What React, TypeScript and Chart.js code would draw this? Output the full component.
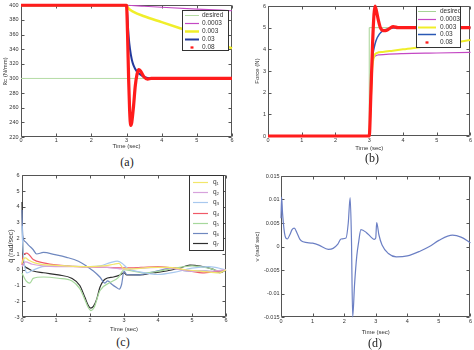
import React, { useEffect, useRef } from 'react';
import { Chart, registerables } from 'chart.js';
Chart.register(...registerables);

const FONT = "'Liberation Sans', Arial, sans-serif";
const TXT = '#333';

// ---------- shared ----------
const X_MIN = 0;
const X_MAX = 6;
const X_LABEL = 'Time (sec)';

// ---------- (a) stiffness estimate ----------
const A_LABELS = ['desired', '0.0003', '0.003', '0.03', '0.08'];
const A_DES_T = [0, 6];
const A_DES_V = [300, 300];
const A_S1_T = [0, 3, 3.5, 4, 5, 6];
const A_S1_V = [400, 400, 398.6, 397.3, 394.8, 392.5];
const A_S2_T = [0, 3, 3.05, 3.2, 3.5, 4, 4.5, 5, 5.5, 6];
const A_S2_V = [400, 400, 396, 391, 385, 377, 369, 361, 351, 341];
const A_S3_T = [0, 3, 3.03, 3.06, 3.1, 3.15, 3.2, 3.3, 3.4, 3.5, 3.7, 6];
const A_S3_V = [400, 400, 380, 358, 340, 326, 318, 309, 305, 302, 300, 300];
const A_S4_T = [0, 3, 3.03, 3.06, 3.09, 3.12, 3.15, 3.2, 3.25, 3.3, 3.35, 3.4, 3.5, 3.6, 3.7, 6];
const A_S4_V = [400, 400, 360, 300, 255, 236, 240, 262, 290, 306, 312, 310, 302, 299, 300, 300];

// ---------- (b) force ----------
const B_DES_T = [0, 3, 3, 6];
const B_DES_V = [0, 0, 5, 5];
const B_S1_T = [0, 3, 3.05, 3.12, 3.27, 3.5, 4, 5, 6];
const B_S1_V = [0, 0, 1.8, 3.58, 3.74, 3.77, 3.8, 3.83, 3.86];
const B_S2_T = [0, 3, 3.05, 3.1, 3.22, 3.4, 3.7, 4, 5, 6];
const B_S2_V = [0, 0, 1.8, 3.3, 3.83, 3.88, 3.94, 4.0, 4.2, 4.43];
const B_S3_T = [0, 3, 3.05, 3.1, 3.15, 3.2, 3.3, 3.4, 3.5, 3.7, 3.9, 6];
const B_S3_V = [0, 0, 2, 3.6, 4.1, 4.4, 4.7, 4.85, 4.92, 4.98, 5, 5];
const B_S4_T = [0, 3, 3.05, 3.1, 3.14, 3.17, 3.21, 3.27, 3.33, 3.42, 3.52, 3.62, 3.71, 3.85, 6];
const B_S4_V = [0, 0, 2.0, 4.3, 5.6, 6.0, 5.8, 5.35, 5.0, 4.86, 4.88, 4.98, 5.05, 5.0, 5.0];

// ---------- (c) joint velocities ----------
const C_LABELS = ['q\u2081', 'q\u2082', 'q\u2083', 'q\u2084', 'q\u2085', 'q\u2086', 'q\u2087'];
const C_Q1_T = [0, 0.05, 0.1, 0.2, 0.35, 0.6, 1, 1.5, 2, 2.4, 2.7, 2.85, 3, 3.3, 3.8, 4.3, 4.8, 5.3, 5.8, 6];
const C_Q1_V = [0.4, 0.7, 0.75, 0.6, 0.45, 0.33, 0.28, 0.22, 0.2, 0.25, 0.35, 0.4, 0.05, 0.05, 0.15, 0.15, 0, -0.1, -0.2, 0];
const C_Q2_T = [0, 0.05, 0.1, 0.3, 0.6, 1, 2, 2.5, 3, 3.5, 4, 4.5, 5, 5.5, 6];
const C_Q2_V = [0.2, 0.4, 0.5, 0.35, 0.25, 0.2, 0.2, 0.15, 0.05, 0.1, 0.15, 0.05, -0.1, -0.1, 0];
const C_Q3_T = [0, 0.03, 0.08, 0.15, 0.3, 0.6, 1, 1.5, 2, 2.3, 2.6, 2.8, 2.95, 3.1, 3.5, 4, 4.5, 5, 5.5, 6];
const C_Q3_V = [2.8, 1.2, 0.2, -0.2, -0.05, 0.2, 0.25, 0.22, 0.2, 0.25, 0.45, 0.55, 0.4, 0.1, -0.15, -0.3, -0.15, 0.1, 0.2, 0];
const C_Q4_T = [0, 0.04, 0.14, 0.33, 0.63, 1.07, 1.5, 2, 2.5, 3, 3.5, 4, 4.5, 5, 5.3, 5.7, 6];
const C_Q4_V = [0.3, 0.96, 1.06, 0.65, 0.44, 0.29, 0.22, 0.18, 0.15, 0.12, 0.15, 0.2, 0.1, -0.1, -0.2, -0.1, 0];
const C_Q5_T = [0, 0.02, 0.12, 0.23, 0.33, 0.63, 1.07, 1.46, 1.7, 1.85, 1.95, 2.03, 2.12, 2.29, 2.59, 2.83, 3, 3.2, 3.6, 4, 4.5, 5, 5.5, 5.85, 6];
const C_Q5_V = [-0.2, -0.3, -0.7, -0.85, -0.55, -0.46, -0.54, -0.7, -1.2, -1.9, -2.4, -2.6, -2.4, -1.33, -0.81, -0.5, 0, -0.05, -0.2, -0.1, 0.1, 0.25, 0.1, -0.1, 0];
const C_Q6_T = [0, 0.02, 0.09, 0.2, 0.33, 0.43, 0.63, 0.97, 1.31, 1.66, 1.9, 2.1, 2.29, 2.44, 2.52, 2.64, 2.78, 2.86, 2.93, 3, 3.08, 3.37, 3.96, 4.45, 4.84, 5.43, 5.8, 6];
const C_Q6_V = [3.8, 2.2, 1.8, 1.55, 1.27, 1.0, 1.1, 0.96, 0.79, 0.54, 0.23, -0.08, -0.46, -0.85, -0.7, -0.92, -1.13, -1.23, -0.92, -0.08, -0.3, -0.33, -0.08, 0.12, -0.08, -0.08, -0.15, 0];
const C_Q7_T = [0, 0.02, 0.05, 0.14, 0.33, 0.63, 1.07, 1.46, 1.7, 1.85, 1.95, 2.02, 2.1, 2.2, 2.29, 2.44, 2.69, 2.88, 3, 3.08, 3.47, 3.86, 4.25, 4.65, 4.94, 5.24, 5.63, 5.82, 6];
const C_Q7_V = [4.3, 1.5, 0.4, 0.12, -0.08, -0.19, -0.33, -0.54, -1.0, -1.75, -2.27, -2.44, -2.33, -1.85, -1.13, -0.6, -0.46, -0.33, -0.19, -0.33, -0.33, -0.19, -0.08, 0.12, 0.29, 0.23, 0.02, -0.19, 0];

// ---------- (d) null-space velocity ----------
const D_T = [0, 0.02, 0.05, 0.13, 0.2, 0.28, 0.35, 0.42, 0.5, 0.6, 0.7, 1.0, 1.2, 1.5, 1.65, 1.8, 1.9, 2.06, 2.13, 2.19, 2.23, 2.27, 2.33, 2.4, 2.46, 2.53, 2.7, 2.85, 2.95, 3.0, 3.03, 3.1, 3.2, 3.4, 3.65, 4.0, 4.4, 4.7, 5.0, 5.43, 5.7, 6.0];
const D_V = [0.006, 0.0105, 0.007, 0.0022, 0.0016, 0.0025, 0.0036, 0.0039, 0.003, 0.0015, 0.001, 0.0007, 0.0003, -0.0006, -0.0004, 0.0005, 0.0016, 0.0018, 0.005, 0.0104, 0.002, -0.015, -0.008, -0.002, 0.001, 0.0036, 0.003, 0.002, 0.0015, 0.0018, 0.0051, 0.0025, 0.0003, -0.0015, -0.0022, -0.002, -0.001, 0, 0.0013, 0.0024, 0.002, 0.0008];

function pts(t: number[], v: number[]) {
  return t.map((x, i) => ({ x, y: v[i] }));
}

const boxPlugin = {
  id: 'mBox',
  beforeDatasetsDraw(chart: any) {
    const { ctx, chartArea, scales } = chart;
    const l = Math.round(chartArea.left) + 0.5;
    const r = Math.round(chartArea.right) - 0.5;
    const t = Math.round(chartArea.top) + 0.5;
    const b = Math.round(chartArea.bottom) - 0.5;
    ctx.save();
    ctx.strokeStyle = '#555';
    ctx.lineWidth = 1;
    ctx.beginPath();
    ctx.rect(l, t, r - l, b - t);
    const len = 3;
    scales.x.ticks.forEach((tk: any) => {
      const p = Math.round(scales.x.getPixelForValue(tk.value)) + 0.5;
      ctx.moveTo(p, b); ctx.lineTo(p, b - len);
      ctx.moveTo(p, t); ctx.lineTo(p, t + len);
    });
    scales.y.ticks.forEach((tk: any) => {
      const p = Math.round(scales.y.getPixelForValue(tk.value)) + 0.5;
      ctx.moveTo(l, p); ctx.lineTo(l + len, p);
      ctx.moveTo(r, p); ctx.lineTo(r - len, p);
    });
    ctx.stroke();
    ctx.restore();
  },
};

const legendPlugin = {
  id: 'mLegend',
  afterDraw(chart: any, _a: any, o: any) {
    if (!o || !o.box) return;
    const { ctx } = chart;
    const [l, t, r, b] = o.box;
    ctx.save();
    ctx.fillStyle = '#fff';
    ctx.fillRect(l, t, r - l, b - t);
    ctx.strokeStyle = '#333';
    ctx.lineWidth = 1;
    ctx.strokeRect(l + 0.5, t + 0.5, r - l - 1, b - t - 1);
    ctx.font = `${o.fontSize}px ${FONT}`;
    ctx.textBaseline = 'middle';
    chart.data.datasets.forEach((ds: any, i: number) => {
      const y = Math.round(t + o.first + i * o.step) + 0.5;
      if (ds.mlPoint) {
        const cx = l + (o.lx0 + o.lx1) / 2;
        ctx.strokeStyle = ds.borderColor;
        ctx.lineWidth = 1;
        ctx.beginPath();
        ctx.moveTo(cx - 1.5, y); ctx.lineTo(cx + 1.5, y);
        ctx.moveTo(cx, y - 1.5); ctx.lineTo(cx, y + 1.5);
        ctx.moveTo(cx - 1.1, y - 1.1); ctx.lineTo(cx + 1.1, y + 1.1);
        ctx.moveTo(cx - 1.1, y + 1.1); ctx.lineTo(cx + 1.1, y - 1.1);
        ctx.stroke();
      } else {
        ctx.strokeStyle = ds.borderColor;
        ctx.lineWidth = Math.min(ds.borderWidth, 2.5);
        ctx.beginPath();
        ctx.moveTo(l + o.lx0, y);
        ctx.lineTo(l + o.lx1, y);
        ctx.stroke();
      }
      ctx.fillStyle = TXT;
      ctx.fillText(ds.label, l + o.tx, y);
    });
    ctx.restore();
  },
};

function fmt(v: any) {
  return String(Math.round(Number(v) * 1e6) / 1e6);
}

function line(label: string, t: number[], v: number[], color: string, width: number, order: number, extra: any = {}) {
  return {
    label,
    data: pts(t, v),
    borderColor: color,
    backgroundColor: color,
    borderWidth: width,
    pointRadius: 0,
    fill: false,
    order,
    clip: 8,
    cubicInterpolationMode: 'monotone',
    ...extra,
  };
}

function makeConfig(p: any) {
  return {
    type: 'line',
    data: { datasets: p.datasets },
    plugins: [boxPlugin, legendPlugin],
    options: {
      animation: false,
      responsive: false,
      events: [],
      layout: { padding: { left: 0, top: p.padTop, right: p.padRight, bottom: 0 } },
      plugins: {
        legend: { display: false },
        tooltip: { enabled: false },
        mLegend: p.legend || {},
      },
      scales: {
        x: {
          type: 'linear',
          min: X_MIN,
          max: X_MAX,
          afterFit: (s: any) => { s.height = p.xAxisH; },
          grid: { display: false, drawTicks: false },
          border: { display: false },
          ticks: {
            stepSize: 1,
            autoSkip: false,
            maxRotation: 0,
            padding: p.xTickPad,
            color: TXT,
            font: { family: FONT, size: 5.5, lineHeight: 1 },
            callback: fmt,
          },
          title: {
            display: true,
            text: X_LABEL,
            color: TXT,
            font: { family: FONT, size: p.xTitleSize || 6, lineHeight: 1.2 },
            padding: { top: 0, bottom: 0 },
          },
        },
        y: {
          type: 'linear',
          min: p.yMin,
          max: p.yMax,
          afterFit: (s: any) => { s.width = p.yAxisW; },
          grid: { display: false, drawTicks: false },
          border: { display: false },
          ticks: {
            stepSize: p.yStep,
            autoSkip: false,
            padding: p.yTickPad,
            color: TXT,
            font: { family: FONT, size: 5.5, lineHeight: 1 },
            callback: fmt,
          },
          title: {
            display: true,
            text: p.yTitle,
            color: TXT,
            font: { family: FONT, size: p.yTitleSize || 6, lineHeight: 1.2, weight: p.yTitleWeight || 'normal' },
            padding: { top: p.yTitlePad, bottom: 0 },
          },
        },
      },
    },
  };
}

function Panel(props: { left: number; top: number; width: number; height: number; cfg: () => any }) {
  const ref = useRef<HTMLCanvasElement>(null);
  useEffect(() => {
    const c = new Chart(ref.current as HTMLCanvasElement, props.cfg() as any);
    return () => c.destroy();
  }, []);
  return (
    <div style={{ position: 'absolute', left: props.left, top: props.top, width: props.width, height: props.height }}>
      <canvas ref={ref} width={props.width} height={props.height} style={{ display: 'block', width: props.width, height: props.height }} />
    </div>
  );
}

const cfgA = () =>
  makeConfig({
    datasets: [
      line(A_LABELS[0], A_DES_T, A_DES_V, '#b4dba4', 1, 4, { cubicInterpolationMode: 'default', tension: 0 }),
      line(A_LABELS[1], A_S1_T, A_S1_V, '#c448c4', 1.2, 3),
      line(A_LABELS[2], A_S2_T, A_S2_V, '#f0ee2a', 2.5, 2),
      line(A_LABELS[3], A_S3_T, A_S3_V, '#23399c', 2, 1),
      line(A_LABELS[4], A_S4_T, A_S4_V, '#ff1c1c', 3.2, 0, { mlPoint: true }),
    ],
    yMin: 220, yMax: 400, yStep: 20,
    yTitle: 'k\u0302c (N/mm)', yTitlePad: 1.4,
    yAxisW: 21, xAxisH: 13, padTop: 4, padRight: 4,
    xTickPad: 0.5, yTickPad: 2.5,
    legend: { box: [182, 10, 229, 51], first: 4.5, step: 8, lx0: 3, lx1: 17, tx: 20, fontSize: 6.5 },
  });

const cfgB = () =>
  makeConfig({
    datasets: [
      line(A_LABELS[0], B_DES_T, B_DES_V, '#a6d496', 1, 4, { cubicInterpolationMode: 'default', tension: 0 }),
      line(A_LABELS[1], B_S1_T, B_S1_V, '#c448c4', 1.2, 3),
      line(A_LABELS[2], B_S2_T, B_S2_V, '#f0ee2a', 2, 2),
      line(A_LABELS[3], B_S3_T, B_S3_V, '#2a58b4', 1.5, 1),
      line(A_LABELS[4], B_S4_T, B_S4_V, '#ff1c1c', 3.2, 0, { mlPoint: true }),
    ],
    yMin: 0, yMax: 6, yStep: 1,
    yTitle: 'Force (N)', yTitlePad: 17,
    yAxisW: 31, xAxisH: 16, padTop: 6, padRight: 3,
    xTickPad: 2, yTickPad: 2,
    legend: { box: [179, 6, 224, 48], first: 4.7, step: 7.9, lx0: 2, lx1: 20, tx: 24, fontSize: 6.5 },
  });

const cfgC = () =>
  makeConfig({
    datasets: [
      line(C_LABELS[0], C_Q1_T, C_Q1_V, '#f2e66a', 1.2, 0),
      line(C_LABELS[1], C_Q2_T, C_Q2_V, '#d7a2dc', 1.2, 1),
      line(C_LABELS[2], C_Q3_T, C_Q3_V, '#a8c8ee', 1.2, 2),
      line(C_LABELS[3], C_Q4_T, C_Q4_V, '#f05a68', 1.2, 3),
      line(C_LABELS[4], C_Q5_T, C_Q5_V, '#a6d89c', 1.2, 4),
      line(C_LABELS[5], C_Q6_T, C_Q6_V, '#6f88bf', 1.2, 5),
      line(C_LABELS[6], C_Q7_T, C_Q7_V, '#2e2e2e', 1.2, 6),
    ],
    yMin: -3, yMax: 6, yStep: 1,
    yTitle: 'q\u0307 (rad/sec)', yTitlePad: 6.5, yTitleSize: 7,
    yAxisW: 22, xAxisH: 16, padTop: 4, padRight: 10,
    xTickPad: 1, yTickPad: 2.5,
    legend: { box: [189, 5, 224, 81], first: 7, step: 10.2, lx0: 4, lx1: 19, tx: 24, fontSize: 6.5 },
  });

const cfgD = () =>
  makeConfig({
    datasets: [line('v', D_T, D_V, '#6b7fc4', 1.2, 0)],
    yMin: -0.015, yMax: 0.015, yStep: 0.005,
    yTitle: 'v (rad/ sec)', yTitlePad: 17,
    yAxisW: 44, xAxisH: 19, padTop: 6, padRight: 2,
    xTickPad: 2, yTickPad: 1.5,
  });

const capStyle = (x: number, y: number): React.CSSProperties => ({
  position: 'absolute',
  left: x,
  top: y,
  transform: 'translate(-50%, -50%)',
  fontFamily: "'Liberation Serif', 'Times New Roman', serif",
  fontSize: 12,
  lineHeight: 1,
  color: '#222',
  whiteSpace: 'nowrap',
});

export default function App() {
  return (
    <div style={{ position: 'absolute', left: 0, top: 0, width: 474, height: 350, background: '#fff', overflow: 'hidden' }}>
      <Panel left={0} top={0} width={236} height={150} cfg={cfgA} />
      <Panel left={237} top={0} width={237} height={152} cfg={cfgB} />
      <Panel left={0} top={170} width={236} height={163} cfg={cfgC} />
      <Panel left={237} top={170} width={237} height={166} cfg={cfgD} />
      <div style={capStyle(127, 162)}>(a)</div>
      <div style={capStyle(372, 158)}>(b)</div>
      <div style={capStyle(123, 342)}>(c)</div>
      <div style={capStyle(375, 343)}>(d)</div>
    </div>
  );
}
